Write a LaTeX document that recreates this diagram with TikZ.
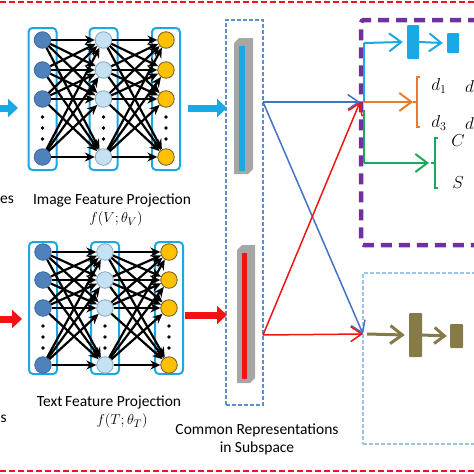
\documentclass[tikz,border=0pt]{standalone}
\usepackage{fontspec}
\setmainfont{Carlito}
\usetikzlibrary{arrows.meta}
\definecolor{cyanc}{HTML}{1CA8E3}
\definecolor{nodeA}{HTML}{4F81BD}
\definecolor{nodeAb}{HTML}{3A6A9E}
\definecolor{nodeB}{HTML}{C6E2F2}
\definecolor{nodeBb}{HTML}{7FA7C9}
\definecolor{nodeC}{HTML}{FFC000}
\definecolor{nodeCb}{HTML}{6B5A2A}
\definecolor{redc}{HTML}{F01414}
\definecolor{bluel}{HTML}{4472C4}
\definecolor{dashblue}{HTML}{5B8FD0}
\definecolor{lightdash}{HTML}{9DC3E6}
\definecolor{purplec}{HTML}{7030A0}
\definecolor{orangec}{HTML}{E97B2A}
\definecolor{greenc}{HTML}{1EA65A}
\definecolor{olivec}{HTML}{857A48}
\definecolor{grayb}{HTML}{A6A6A6}
\begin{document}
\begin{tikzpicture}[x=1pt,y=-1pt,
  colbox/.style={draw=cyanc, line width=2pt, rounded corners=4pt, fill=white, minimum width=28pt, inner sep=0pt},
  nA/.style={circle, minimum size=16.5pt, inner sep=0pt, fill=nodeA, draw=nodeAb, line width=0.8pt},
  nB/.style={circle, minimum size=16.5pt, inner sep=0pt, fill=nodeB, draw=nodeBb, line width=0.8pt},
  nC/.style={circle, minimum size=16.5pt, inner sep=0pt, fill=nodeC, draw=nodeCb, line width=0.8pt},
  nnedge/.style={black, line width=2.2pt, -{Stealth[length=10pt,width=9pt]}},
  blockarrow/.style={line width=7pt, -{Triangle[length=10pt,width=18pt]}},
  lbl/.style={font=\fontsize{15.5}{17}\selectfont, inner sep=0pt},
  mth/.style={font=\fontsize{15}{17}\selectfont, inner sep=0pt},
  rmth/.style={font=\fontsize{16.5}{18}\selectfont, inner sep=0pt},
  thinline/.style={line width=1.5pt, -{Straight Barb[length=11pt,width=15pt]}},
  openarrow/.style={line width=2pt, -{Straight Barb[length=12pt,width=18pt]}},
  reddash/.style={draw=redc, line width=2pt, dash pattern=on 6pt off 3pt},
]
\useasboundingbox (0,0) rectangle (474,474);
% red dashed frame lines
\coordinate (rtl) at (0,2); \coordinate (rtr) at (474,2);
\coordinate (rbl) at (0,471); \coordinate (rbr) at (474,471);
\draw[reddash] (rtl) -- (rtr);
\draw[reddash] (rbl) -- (rbr);

% left clipped labels and arrows
\node[lbl, anchor=west] (imgs) at (0,200) {es};
\node[lbl, anchor=west] (txts) at (0.5,419) {s};
\coordinate (inVs) at (-5,108); \coordinate (inVe) at (18,108);
\coordinate (inTs) at (-5,319); \coordinate (inTe) at (22,319);
\draw[blockarrow, cyanc] (inVs) -- (inVe);
\draw[blockarrow, redc] (inTs) -- (inTe);

% top network
\node[colbox, minimum height=142pt] (tb1) at (42.5,99) {};
\node[colbox, minimum height=142pt] (tb2) at (103.5,99) {};
\node[colbox, minimum height=142pt] (tb3) at (166,99) {};
\foreach \c/\x/\s in {1/42.5/nA,2/103.5/nB,3/166/nC}{
  \foreach \r/\y in {1/40,2/70,3/99,4/157}{
    \node[\s] (t\c\r) at (\x,\y) {};
  }
  \foreach \y in {117,128,139}{ \fill (\x,\y) circle (1.8pt); }
}
\foreach \i in {1,...,4}{\foreach \j in {1,...,4}{
  \draw[nnedge] (t1\i) -- (t2\j);
  \draw[nnedge] (t2\i) -- (t3\j);
}}

% bottom network
\node[colbox, minimum height=132pt] (bb1) at (43,308) {};
\node[colbox, minimum height=132pt] (bb2) at (105,308) {};
\node[colbox, minimum height=132pt] (bb3) at (169,308) {};
\foreach \c/\x/\s in {1/43/nA,2/105/nB,3/169/nC}{
  \foreach \r/\y in {1/252,2/280,3/308,4/365}{
    \node[\s] (b\c\r) at (\x,\y) {};
  }
  \foreach \y in {326,337,348}{ \fill (\x,\y) circle (1.8pt); }
}
\foreach \i in {1,...,4}{\foreach \j in {1,...,4}{
  \draw[nnedge] (b1\i) -- (b2\j);
  \draw[nnedge] (b2\i) -- (b3\j);
}}

% labels
\node[lbl] (imgproj) at (112,200) {Image Feature Projection};
\node[mth] (fv) at (116,219) {$f(V;\theta_V)$};
\node[lbl] (txtproj) at (109,402) {Text\,Feature Projection};
\node[mth] (ft) at (122,421) {$f(T;\theta_T)$};
\node[lbl] (crep) at (257,430) {Common Representations};
\node[lbl] (csub) at (257,448) {in Subspace};

% common subspace box
\node[draw=dashblue, line width=1.3pt, dash pattern=on 4pt off 2pt, minimum width=37pt, minimum height=385pt, inner sep=0pt] (cbox) at (244.5,212.5) {};
% bars
\fill[grayb] (234,43) -- (239,38) -- (253,38) -- (253,169) -- (248,174) -- (234,174) -- cycle;
\fill[cyanc] (239,46) rectangle (245,171);
\fill[grayb] (237,250) -- (242,245) -- (255,245) -- (255,378) -- (250,383) -- (237,383) -- cycle;
\fill[redc] (242,253) rectangle (247,379);

% big arrows to common box
\coordinate (vas) at (188,108); \coordinate (vae) at (227,108);
\coordinate (tas) at (185,315); \coordinate (tae) at (227,315);
\draw[blockarrow, cyanc] (vas) -- (vae);
\draw[blockarrow, redc] (tas) -- (tae);

% purple box
\node[draw=purplec, line width=4.5pt, dash pattern=on 11pt off 7pt, rounded corners=3pt, minimum width=121pt, minimum height=225pt, inner sep=0pt] (pbox) at (421.5,132.5) {};
% bottom light-blue box
\node[draw=lightdash, line width=1.3pt, dash pattern=on 4pt off 2pt, minimum width=121pt, minimum height=171pt, inner sep=0pt] (lbox) at (423.5,358.5) {};

% cross lines
\coordinate (cv) at (263,102); \coordinate (ct) at (263,335);
\coordinate (pin) at (360,102); \coordinate (bin) at (363,334);
\draw[thinline, bluel] (cv) -- (pin);
\draw[thinline, bluel] (cv) -- (bin);
\draw[thinline, redc] (ct) -- (bin);
\draw[thinline, redc] (ct) -- (pin);

% inside purple box
\coordinate (pc0) at (364,43); \coordinate (pc1) at (364,102); \coordinate (pc2) at (364,163);
\draw[cyanc, line width=2pt] (pc0) -- (pc1);
\draw[greenc, line width=2pt] (364,110) -- (pc2);
\node[fill=cyanc, rounded corners=1pt, minimum width=12pt, minimum height=34pt, inner sep=0pt] (cr1) at (413,42) {};
\node[fill=cyanc, rounded corners=1pt, minimum width=12pt, minimum height=20pt, inner sep=0pt] (cr2) at (453,43) {};
\draw[openarrow, cyanc] (pc0) -- ([xshift=-4pt]cr1.west);
\draw[openarrow, cyanc] (cr1.east) -- ([xshift=-4pt]cr2.west);

\coordinate (ob) at (413,102);
\draw[openarrow, orangec] (pc1) -- (ob);
\draw[orangec, line width=1.5pt] (420,77) -- (417,77) -- (417,127) -- (420,127);
\draw[orangec, line width=1.5pt] (413,102) -- (417,102);
\node[rmth] (d1) at (439,86) {$d_1$};
\node[rmth, anchor=west] (d2) at (465,86) {$d$};
\node[rmth] (d3) at (439,123) {$d_3$};
\node[rmth, anchor=west] (d4) at (465,123) {$d$};

\coordinate (gb) at (429,163);
\draw[openarrow, greenc] (pc2) -- (gb);
\draw[greenc, line width=1.5pt] (438,138) -- (435,138) -- (435,188) -- (438,188);
\draw[greenc, line width=1.5pt] (431,163) -- (435,163);
\node[rmth] (cC) at (458,141) {$C$};
\node[rmth] (cS) at (458,183) {$S$};

% olive
\node[fill=olivec, rounded corners=1pt, minimum width=13pt, minimum height=44pt, inner sep=0pt] (or1) at (415.5,335) {};
\node[fill=olivec, rounded corners=1pt, minimum width=13pt, minimum height=24pt, inner sep=0pt] (or2) at (456.5,336) {};
\coordinate (os) at (367,334);
\draw[olivec, line width=3pt, -{Straight Barb[length=12pt,width=18pt]}] (os) -- ([xshift=-4pt]or1.west);
\draw[olivec, line width=3pt, -{Straight Barb[length=10pt,width=16pt]}] (or1.east) -- ([xshift=-3pt]or2.west);
\end{tikzpicture}
\end{document}
